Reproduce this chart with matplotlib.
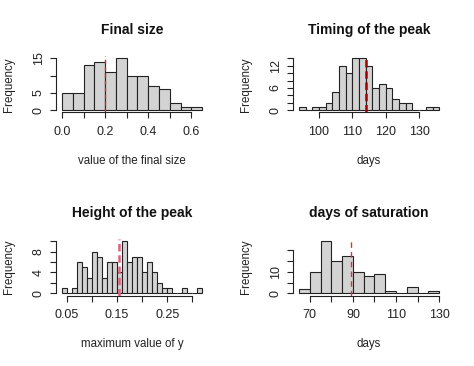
import numpy as np
import matplotlib.pyplot as plt

plt.rcParams['font.family'] = ['Liberation Sans', 'DejaVu Sans']

# --- data ---
# final size
size_start, size_width = 0.0, 0.05
size_counts = [5, 5, 13, 14, 11, 15, 10, 10, 7, 6, 2, 1, 1]
size_line = 0.2

# timing of the peak (days)
timing_start, timing_width = 94, 2
timing_counts = [1, 0, 1, 1, 2, 5, 12, 10, 14, 14, 12, 6, 7, 6, 3, 2, 2, 0, 0, 1, 1]
timing_line = 114.2

# height of the peak
height_start, height_width = 0.04, 0.01
height_counts = [1, 0, 1, 6, 5, 3, 8, 7, 3, 6, 6, 4, 10, 6, 7, 7, 4, 6, 4, 2, 1, 1,
                 0, 0, 1, 0, 0, 1]
height_line = 0.153

# days of saturation
sat_start, sat_width = 65, 5
sat_counts = [2, 10, 24, 15, 17, 10, 8, 9, 1, 0, 3, 0, 1]
sat_line = 89.3

panels = [
    dict(title="Final size", xlabel="value of the final size",
         start=size_start, width=size_width, counts=size_counts, vline=size_line,
         xticks=[0, 0.1, 0.2, 0.3, 0.4, 0.5, 0.6],
         xlabels=["0.0", "", "0.2", "", "0.4", "", "0.6"],
         yticks=[0, 5, 10, 15], ylabels=["0", "5", "", "15"],
         lcol="#C0302A", lw=1.0, dash=(3, 2)),
    dict(title="Timing of the peak", xlabel="days",
         start=timing_start, width=timing_width, counts=timing_counts, vline=timing_line,
         xticks=[100, 110, 120, 130], xlabels=["100", "110", "120", "130"],
         yticks=[0, 2, 4, 6, 8, 10, 12, 14],
         ylabels=["0", "", "", "6", "", "", "12", ""],
         lcol="#A80000", lw=1.8, dash=(3, 1.5)),
    dict(title="Height of the peak", xlabel="maximum value of y",
         start=height_start, width=height_width, counts=height_counts, vline=height_line,
         xticks=[0.05, 0.10, 0.15, 0.20, 0.25, 0.30],
         xlabels=["0.05", "", "0.15", "", "0.25", ""],
         yticks=[0, 2, 4, 6, 8, 10], ylabels=["0", "", "4", "", "8", ""],
         lcol="#E0607A", lw=1.8, dash=(3, 1.5)),
    dict(title="days of saturation", xlabel="days",
         start=sat_start, width=sat_width, counts=sat_counts, vline=sat_line,
         xticks=[70, 80, 90, 100, 110, 120, 130],
         xlabels=["70", "", "90", "", "110", "", "130"],
         yticks=[0, 5, 10, 15, 20], ylabels=["0", "", "10", "", ""],
         lcol="#E03040", lw=1.0, dash=(4, 3)),
]

W, H = 474, 366
fig = plt.figure(figsize=(W / 100, H / 100), dpi=100)

# plot regions in pixels inside each 237x183 cell
cell_w, cell_h = 237, 183
pl, pr, pt, pb = 56.4, 207.8, 56.0, 112.5

for i, p in enumerate(panels):
    col, row = i % 2, i // 2
    ax = fig.add_axes([(col * cell_w + pl) / W, 1 - (row * cell_h + pb) / H,
                       (pr - pl) / W, (pb - pt) / H])
    ax_h = pb - pt
    ax_w = pr - pl

    counts = np.array(p["counts"])
    lefts = p["start"] + p["width"] * np.arange(len(counts))
    ax.bar(lefts, counts, width=p["width"], align="edge",
           color="#D3D3D3", edgecolor="#222222", linewidth=0.8)
    ax.axvline(p["vline"], color=p["lcol"], lw=p["lw"], dashes=p["dash"])

    lo, hi = lefts[0], lefts[-1] + p["width"]
    pad = 0.04 * (hi - lo)
    ax.set_xlim(lo - pad, hi + pad)
    ymax = counts.max()
    ax.set_ylim(-0.04 * ymax, 1.04 * ymax)

    for s in ["top", "right"]:
        ax.spines[s].set_visible(False)
    for s in ["left", "bottom"]:
        ax.spines[s].set_linewidth(0.8)
        ax.spines[s].set_color("#222222")
    ax.spines["bottom"].set_bounds(p["xticks"][0], p["xticks"][-1])
    ax.spines["left"].set_bounds(p["yticks"][0], p["yticks"][-1])

    ax.set_xticks(p["xticks"])
    ax.set_xticklabels(p["xlabels"])
    ax.set_yticks(p["yticks"])
    ax.set_yticklabels(p["ylabels"], rotation=90, va="center")
    ax.tick_params(length=4.3, width=0.8, color="#222222", labelcolor="#222222",
                   labelsize=9)
    ax.tick_params(axis="x", pad=5.5)
    ax.tick_params(axis="y", pad=4.0)

    ax.set_title(p["title"], fontsize=10, fontweight="bold", color="#111111",
                 y=1 + 26 / ax_h, pad=0, va="center")
    ax.set_xlabel(p["xlabel"], fontsize=8.3, va="center", color="#222222")
    ax.xaxis.set_label_coords(0.5, -48.5 / ax_h)
    ax.set_ylabel("Frequency", fontsize=8.3, va="center", color="#222222")
    ax.yaxis.set_label_coords(-47.4 / ax_w, 0.5)

fig.savefig("out.png", dpi=100)
